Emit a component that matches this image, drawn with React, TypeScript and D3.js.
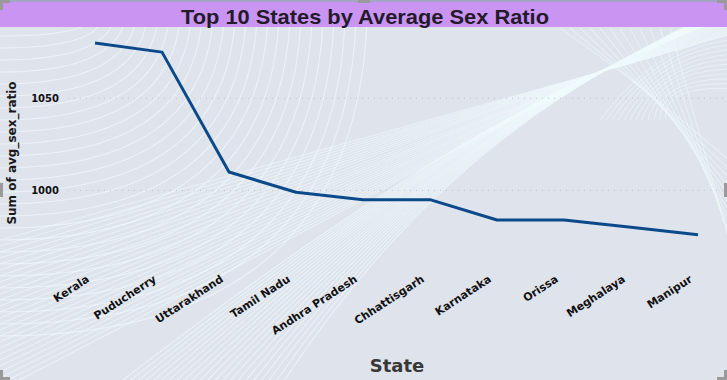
import React from "react";
import * as d3 from "d3";

const states = ["Kerala", "Puducherry", "Uttarakhand", "Tamil Nadu", "Andhra Pradesh", "Chhattisgarh", "Karnataka", "Orissa", "Meghalaya", "Manipur"];
const sexRatio = [1080, 1075, 1010, 999, 995, 995, 984, 984, 980, 976];
const yTicks = [1000, 1050];

const W = 727, H = 380;

function decoration(): { d: string; o: number }[] {
  const paths: { d: string; o: number }[] = [];
  // left fan of curves
  for (let i = 0; i < 26; i++) {
    const yL = 36 + i * 12;
    const xT = 80 + i * 11;
    paths.push({ d: `M0,${yL} Q${xT},${yL} ${xT + 12},20`, o: 0.6 });
  }
  // lower-left band converging to the upper right
  for (let i = 0; i < 26; i++) {
    const y0 = 240 + i * 6;
    paths.push({ d: `M0,${y0} Q320,${y0 - 90 - i * 3} 600,72 T760,10`, o: 0.55 });
  }
  // steep band
  for (let i = 0; i < 22; i++) {
    const x0 = 110 + i * 8;
    paths.push({ d: `M${x0},390 Q420,${150 + i} 620,62 T760,20`, o: 0.6 });
  }
  // top-right crossing curves
  for (let i = 0; i < 12; i++) {
    paths.push({ d: `M${560 + i * 10},28 Q${650 + i * 5},${90 + i * 6} 740,${170 + i * 10}`, o: 0.5 });
    paths.push({ d: `M${600 + i * 6},120 Q${660},${40 + i * 4} 740,${34 + i * 5}`, o: 0.5 });
  }
  return paths;
}

export default function App() {
  const x = d3.scalePoint<string>().domain(states).range([95, 698]);
  const y = d3.scaleLinear().domain([965, 1087]).range([255, 30]);
  const line = d3.line<number>()
    .x((_, i) => x(states[i]) as number)
    .y((d) => y(d));

  const deco = decoration();

  return (
    <svg width={W} height={H} style={{ position: "absolute", left: 0, top: 0 }}>
      <defs>
        <clipPath id="bg">
          <rect x={0} y={27} width={W} height={H - 27} />
        </clipPath>
      </defs>
      <rect x={0} y={0} width={W} height={H} fill="#dfe3ec" />
      <g clipPath="url(#bg)">
        {deco.map((p, i) => (
          <path key={i} d={p.d} fill="none" stroke="#f0fbfd" strokeOpacity={p.o} strokeWidth={1.2} />
        ))}
      </g>
      {/* title bar */}
      <rect x={0} y={0} width={W} height={2} fill="#a3a6c2" />
      <rect x={0} y={2} width={W} height={25} fill="#c994f2" />
      <text x={365} y={24} textAnchor="middle" fontFamily="'Liberation Sans', Arial, sans-serif" fontWeight="bold" fontSize={21} fill="#231a2a" textLength={368} lengthAdjust="spacingAndGlyphs">
        Top 10 States by Average Sex Ratio
      </text>
      {/* corner handles */}
      <path d="M0,0 H10 V3 H3 V10 H0 Z" fill="#9a9a9a" />
      <path d="M727,0 H717 V3 H724 V10 H727 Z" fill="#9a9a9a" />
      <path d="M0,380 H10 V377 H3 V370 H0 Z" fill="#9a9a9a" />
      <path d="M727,380 H717 V377 H724 V370 H727 Z" fill="#9a9a9a" />
      <rect x={0} y={183} width={3} height={14} fill="#9a9a9a" />
      <rect x={724} y={183} width={3} height={14} fill="#9a9a9a" />
      <rect x={358} y={0} width={12} height={3} fill="#9a9a9a" />
      {/* gridlines */}
      {yTicks.map((t) => (
        <line key={t} x1={68} x2={725} y1={y(t)} y2={y(t)} stroke="#c4c4c8" strokeWidth={1} strokeDasharray="1,5" />
      ))}
      {/* y tick labels */}
      {yTicks.map((t) => (
        <text key={"l" + t} x={59} y={y(t) + 4} textAnchor="end" fontFamily="'DejaVu Sans', Verdana, sans-serif" fontWeight="bold" fontSize={10} fill="#111">
          {t}
        </text>
      ))}
      {/* y axis title */}
      <text transform="translate(16,153) rotate(-90)" textAnchor="middle" fontFamily="'DejaVu Sans', Verdana, sans-serif" fontWeight="bold" fontSize={12} fill="#1a1a1a">
        Sum of avg_sex_ratio
      </text>
      {/* line */}
      <path d={line(sexRatio) || ""} fill="none" stroke="#0b4a8a" strokeWidth={3} strokeLinejoin="round" />
      {/* x labels */}
      {states.map((s) => (
        <text key={s} transform={`translate(${(x(s) as number) - 5},281) rotate(-33)`} textAnchor="end" fontFamily="'DejaVu Sans', Verdana, sans-serif" fontWeight="bold" fontSize={11} fill="#111">
          {s}
        </text>
      ))}
      {/* x title */}
      <text x={397} y={372} textAnchor="middle" fontFamily="'DejaVu Sans', Verdana, sans-serif" fontWeight="bold" fontSize={18} fill="#383838">
        State
      </text>
    </svg>
  );
}
